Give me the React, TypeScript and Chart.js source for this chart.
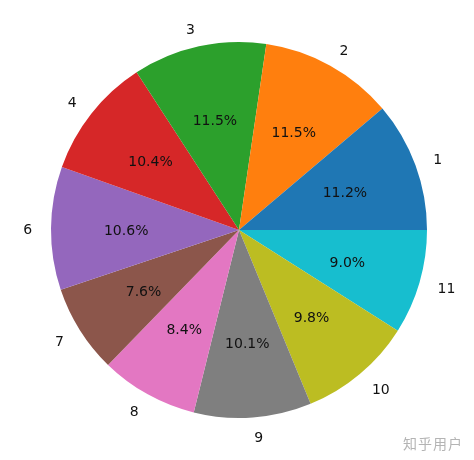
import { useEffect, useRef } from "react";
import { Chart, registerables } from "chart.js";
import type { Plugin } from "chart.js";

Chart.register(...registerables);

// slice labels, counter-clockwise from 3 o'clock (no "5" in the source)
const sliceLabels = ["1", "2", "3", "4", "6", "7", "8", "9", "10", "11"];
const sliceShares = [11.2, 11.5, 11.5, 10.4, 10.6, 7.6, 8.4, 10.1, 9.8, 9.0];
const sliceColors = [
  "#1f77b4",
  "#ff7f0e",
  "#2ca02c",
  "#d62728",
  "#9467bd",
  "#8c564b",
  "#e377c2",
  "#7f7f7f",
  "#bcbd22",
  "#17becf",
];

const FONT = '14px "DejaVu Sans", sans-serif';

// matplotlib-style labels: name outside at 1.1r, percentage inside at 0.6r
const pieText: Plugin<"pie"> = {
  id: "pieText",
  afterDatasetsDraw(chart) {
    const ctx = chart.ctx;
    const meta = chart.getDatasetMeta(0);
    const labels = chart.data.labels as string[];
    const values = chart.data.datasets[0].data as number[];
    ctx.save();
    ctx.font = FONT;
    ctx.fillStyle = "#111";
    ctx.textBaseline = "middle";
    const dy = 2; // matplotlib centres a bit lower than canvas "middle"
    meta.data.forEach((el, i) => {
      const arc = el as any;
      const mid = (arc.startAngle + arc.endAngle) / 2;
      const r = arc.outerRadius;
      const cos = Math.cos(mid);
      const sin = Math.sin(mid);

      ctx.textAlign = "center";
      ctx.fillText(
        values[i].toFixed(1) + "%",
        arc.x + cos * r * 0.6,
        arc.y + sin * r * 0.6 + dy
      );

      const lx = arc.x + cos * r * 1.1;
      const ly = arc.y + sin * r * 1.1 + dy;
      ctx.textAlign = Math.abs(cos) < 1e-6 ? "center" : cos > 0 ? "left" : "right";
      ctx.fillText(labels[i], lx, ly);
    });
    ctx.restore();
  },
};

function PieChart() {
  const canvasRef = useRef<HTMLCanvasElement>(null);
  const chartRef = useRef<Chart<"pie"> | null>(null);

  useEffect(() => {
    if (!canvasRef.current) return;
    if (chartRef.current) chartRef.current.destroy();

    // Chart.js goes clockwise, so reverse the order and start at 3 o'clock
    const labels = [...sliceLabels].reverse();
    const data = [...sliceShares].reverse();
    const colors = [...sliceColors].reverse();

    chartRef.current = new Chart(canvasRef.current, {
      type: "pie",
      data: {
        labels,
        datasets: [
          {
            data,
            backgroundColor: colors,
            borderWidth: 0,
          },
        ],
      },
      options: {
        responsive: true,
        maintainAspectRatio: false,
        animation: false,
        events: [],
        rotation: 90,
        layout: { padding: { top: 42, bottom: 42, left: 51, right: 47 } },
        plugins: {
          legend: { display: false },
          tooltip: { enabled: false },
        },
      },
      plugins: [pieText],
    });

    return () => {
      if (chartRef.current) {
        chartRef.current.destroy();
        chartRef.current = null;
      }
    };
  }, []);

  return (
    <div style={{ position: "relative", width: 474, height: 460 }}>
      <canvas ref={canvasRef} />
    </div>
  );
}

export default function App() {
  return (
    <div
      style={{
        position: "fixed",
        left: 0,
        top: 0,
        width: 474,
        height: 460,
        background: "#fff",
      }}
    >
      <PieChart />
      <div
        style={{
          position: "absolute",
          left: 403,
          top: 434,
          fontFamily: '"Noto Sans CJK SC", sans-serif',
          fontSize: 14,
          lineHeight: "18px",
          color: "#b4b4b4",
          letterSpacing: 1,
        }}
      >
        知乎用户
      </div>
    </div>
  );
}
